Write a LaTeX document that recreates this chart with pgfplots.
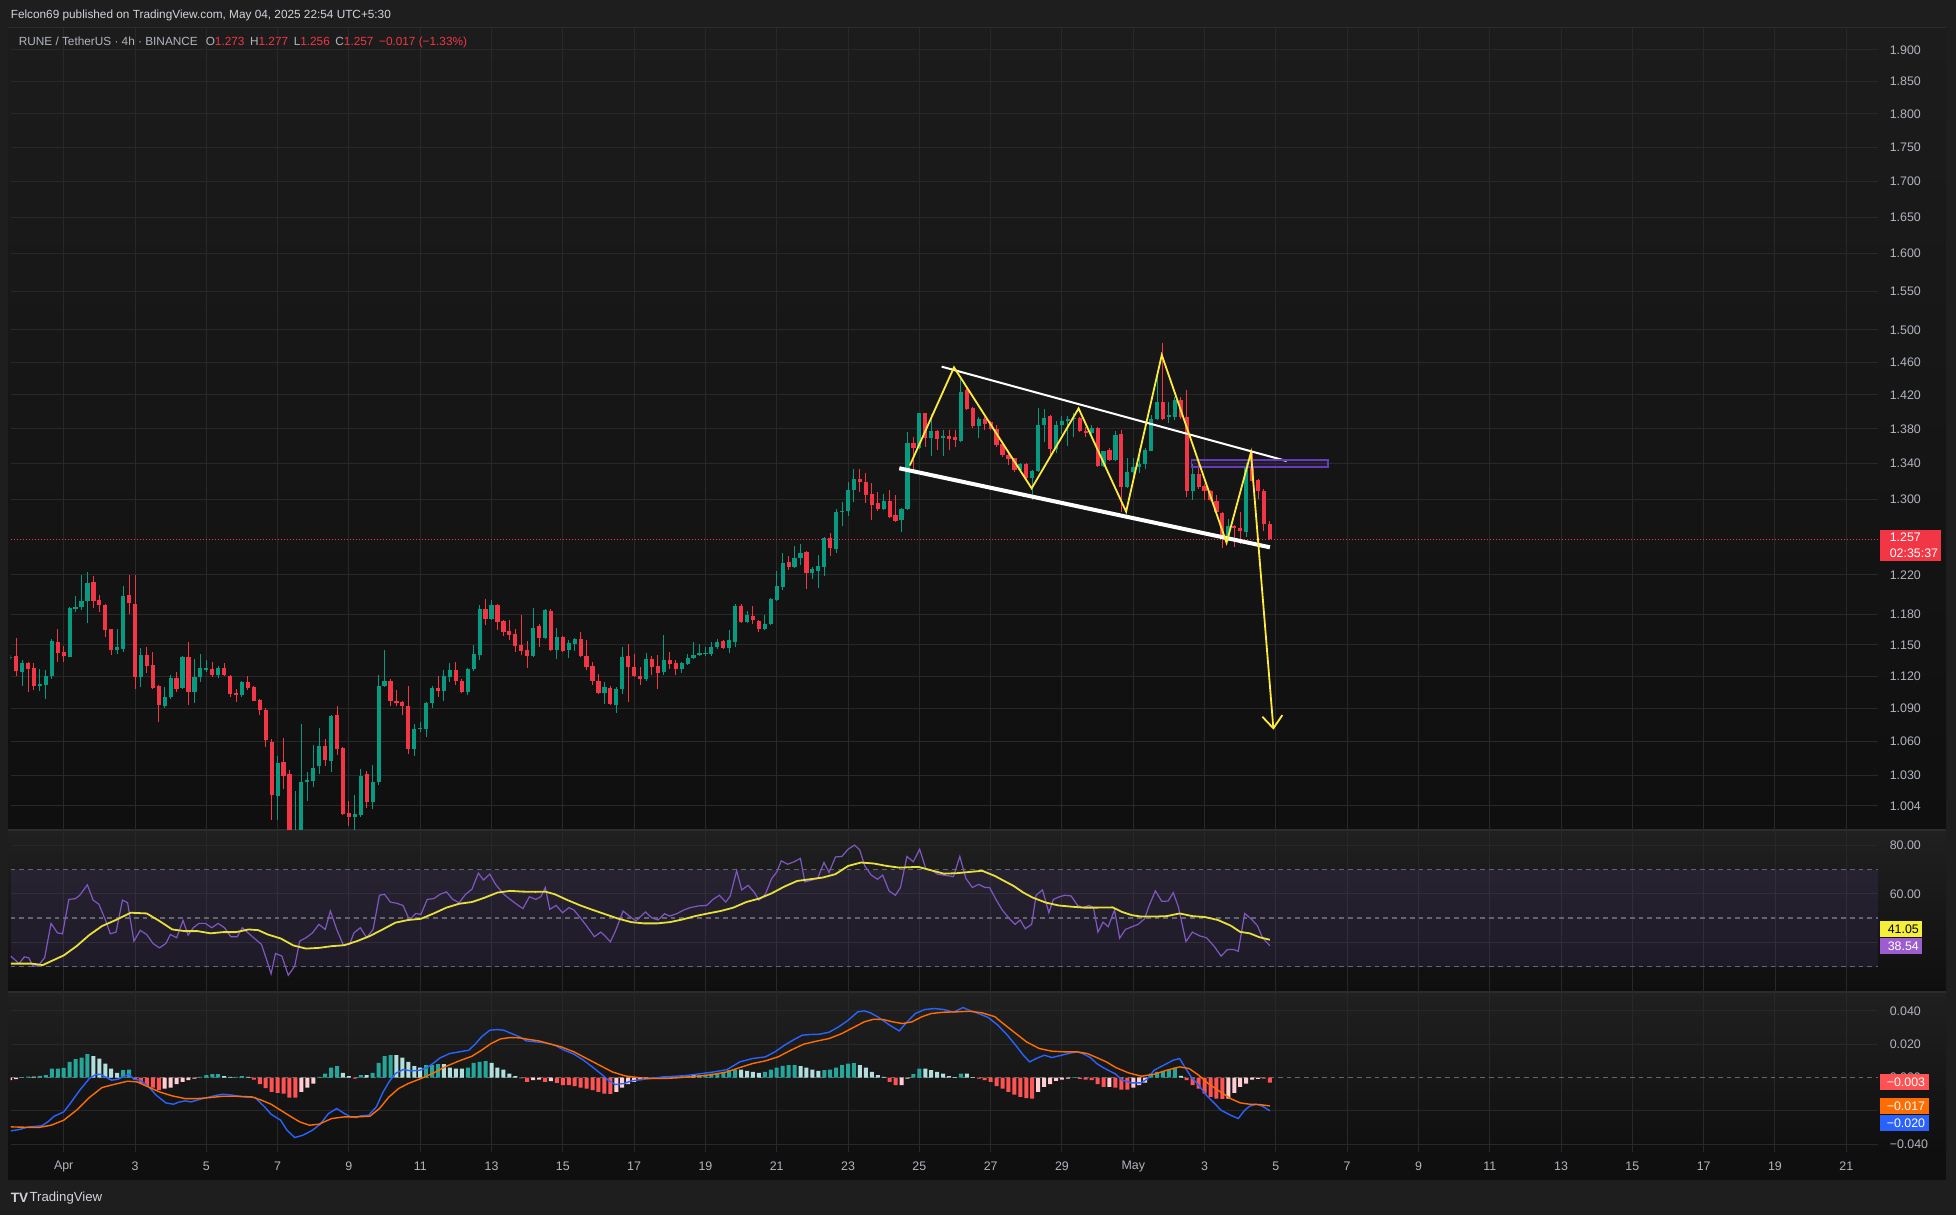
\documentclass[border=0pt]{standalone}
\usepackage{pgfplots}
\usepackage{pgfplotstable}
\pgfplotsset{compat=1.18}
\usetikzlibrary{arrows.meta}
\usepackage{fontspec}
\setmainfont{Liberation Sans}
\definecolor{pagebg}{HTML}{1E1E1E}
\definecolor{panetop}{HTML}{1C1C1C}
\definecolor{panebot}{HTML}{0F0F0F}
\definecolor{subtop}{HTML}{202020}
\definecolor{tvgrid}{HTML}{282828}
\definecolor{tvtext}{HTML}{B2B5BE}
\definecolor{tvhead}{HTML}{D1D4DC}
\definecolor{tvgreen}{HTML}{089981}
\definecolor{tvred}{HTML}{F23645}
\definecolor{rsipurple}{HTML}{7E57C2}
\definecolor{rsilabel}{HTML}{9C5ECF}
\definecolor{rsiyellow}{HTML}{E6DF3C}
\definecolor{rsiylabel}{HTML}{F5EE3B}
\definecolor{zzyellow}{HTML}{FFEB3B}
\definecolor{macdblue}{HTML}{2962FF}
\definecolor{macdorange}{HTML}{FF6D00}
\definecolor{hteal}{HTML}{26A69A}
\definecolor{hlteal}{HTML}{B2DFDB}
\definecolor{hred}{HTML}{FF5252}
\definecolor{hpink}{HTML}{FFCDD2}
\definecolor{dashgrey}{HTML}{62656D}
\definecolor{rectpurple}{HTML}{673AB7}
\definecolor{sepcol}{HTML}{2C2C2C}
\newcommand\tlf{\fontsize{3.1pt}{3.6pt}\selectfont}
\newcommand\hdf{\fontsize{2.95pt}{3.5pt}\selectfont}

\pgfplotstableread{
j o h l c
-9 1.137 1.140 1.135 1.138
-8 1.139 1.157 1.120 1.125
-7 1.124 1.135 1.111 1.133
-6 1.133 1.134 1.105 1.127
-5 1.128 1.133 1.107 1.111
-4 1.111 1.127 1.106 1.113
-3 1.112 1.126 1.099 1.120
-2 1.120 1.156 1.117 1.154
-1 1.153 1.166 1.134 1.142
0 1.143 1.149 1.134 1.139
1 1.138 1.187 1.138 1.186
2 1.185 1.198 1.182 1.187
3 1.187 1.220 1.184 1.193
4 1.193 1.223 1.171 1.212
5 1.213 1.219 1.186 1.193
6 1.194 1.199 1.182 1.189
7 1.189 1.190 1.158 1.165
8 1.166 1.166 1.140 1.145
9 1.145 1.166 1.141 1.148
10 1.146 1.209 1.143 1.198
11 1.199 1.220 1.180 1.191
12 1.190 1.220 1.108 1.119
13 1.119 1.147 1.110 1.140
14 1.140 1.148 1.123 1.130
15 1.131 1.143 1.108 1.109
16 1.111 1.112 1.078 1.093
17 1.092 1.110 1.090 1.101
18 1.101 1.121 1.099 1.118
19 1.118 1.124 1.105 1.108
20 1.109 1.139 1.108 1.138
21 1.138 1.153 1.093 1.105
22 1.105 1.136 1.095 1.119
23 1.119 1.141 1.115 1.128
24 1.126 1.135 1.124 1.128
25 1.127 1.134 1.119 1.121
26 1.121 1.130 1.118 1.128
27 1.128 1.133 1.120 1.121
28 1.120 1.121 1.101 1.103
29 1.104 1.108 1.096 1.102
30 1.102 1.116 1.101 1.115
31 1.115 1.120 1.107 1.109
32 1.110 1.111 1.097 1.097
33 1.098 1.099 1.084 1.089
34 1.089 1.090 1.055 1.061
35 1.060 1.062 0.992 1.013
36 1.012 1.047 0.992 1.041
37 1.042 1.063 1.018 1.030
38 1.031 1.035 0.968 0.980
39 0.975 1.017 0.965 0.982
40 0.982 1.076 0.975 1.024
41 1.024 1.033 1.008 1.026
42 1.025 1.057 1.020 1.037
43 1.038 1.072 1.031 1.056
44 1.056 1.062 1.038 1.044
45 1.043 1.084 1.033 1.083
46 1.084 1.092 1.048 1.053
47 1.054 1.055 0.996 0.997
48 0.998 1.008 0.987 0.995
49 0.995 1.013 0.982 0.997
50 0.996 1.036 0.995 1.030
51 1.031 1.034 1.002 1.007
52 1.007 1.039 1.001 1.024
53 1.024 1.121 1.022 1.111
54 1.111 1.145 1.110 1.116
55 1.116 1.117 1.092 1.097
56 1.097 1.107 1.092 1.095
57 1.096 1.097 1.084 1.092
58 1.092 1.111 1.049 1.053
59 1.053 1.076 1.047 1.071
60 1.071 1.078 1.069 1.072
61 1.071 1.096 1.064 1.095
62 1.095 1.111 1.090 1.109
63 1.109 1.120 1.101 1.106
64 1.106 1.126 1.097 1.120
65 1.119 1.133 1.115 1.126
66 1.126 1.134 1.112 1.116
67 1.116 1.117 1.104 1.105
68 1.105 1.128 1.102 1.127
69 1.127 1.150 1.125 1.141
70 1.140 1.189 1.135 1.185
71 1.185 1.195 1.169 1.175
72 1.175 1.194 1.174 1.189
73 1.189 1.190 1.165 1.172
74 1.173 1.174 1.159 1.163
75 1.164 1.174 1.155 1.160
76 1.161 1.166 1.143 1.149
77 1.150 1.179 1.140 1.144
78 1.145 1.154 1.128 1.139
79 1.139 1.186 1.138 1.167
80 1.168 1.170 1.148 1.157
81 1.157 1.185 1.156 1.184
82 1.183 1.185 1.144 1.145
83 1.145 1.167 1.136 1.158
84 1.158 1.159 1.143 1.144
85 1.145 1.155 1.137 1.152
86 1.151 1.157 1.144 1.156
87 1.156 1.163 1.138 1.139
88 1.139 1.155 1.126 1.129
89 1.130 1.134 1.112 1.116
90 1.116 1.122 1.103 1.104
91 1.104 1.115 1.094 1.110
92 1.109 1.111 1.093 1.094
93 1.093 1.110 1.086 1.108
94 1.108 1.148 1.103 1.138
95 1.139 1.151 1.096 1.129
96 1.129 1.141 1.119 1.120
97 1.120 1.129 1.112 1.117
98 1.117 1.142 1.116 1.136
99 1.136 1.139 1.121 1.129
100 1.130 1.140 1.108 1.123
101 1.124 1.160 1.121 1.135
102 1.135 1.143 1.127 1.132
103 1.133 1.135 1.121 1.127
104 1.127 1.134 1.123 1.133
105 1.132 1.141 1.131 1.137
106 1.137 1.153 1.136 1.140
107 1.140 1.151 1.139 1.142
108 1.141 1.148 1.139 1.142
109 1.141 1.153 1.139 1.148
110 1.148 1.156 1.146 1.153
111 1.154 1.155 1.146 1.147
112 1.147 1.165 1.142 1.155
113 1.153 1.190 1.148 1.188
114 1.188 1.190 1.171 1.172
115 1.172 1.183 1.171 1.179
116 1.178 1.188 1.170 1.174
117 1.173 1.174 1.163 1.166
118 1.166 1.179 1.165 1.170
119 1.170 1.196 1.169 1.195
120 1.194 1.224 1.193 1.209
121 1.208 1.243 1.205 1.232
122 1.233 1.240 1.225 1.228
123 1.228 1.250 1.227 1.238
124 1.237 1.252 1.230 1.243
125 1.244 1.245 1.206 1.222
126 1.222 1.228 1.216 1.226
127 1.224 1.241 1.207 1.229
128 1.228 1.260 1.219 1.259
129 1.259 1.264 1.240 1.248
130 1.247 1.290 1.243 1.286
131 1.286 1.297 1.271 1.288
132 1.288 1.319 1.282 1.311
133 1.311 1.334 1.297 1.323
134 1.323 1.334 1.308 1.320
135 1.319 1.330 1.296 1.305
136 1.306 1.318 1.278 1.294
137 1.296 1.308 1.288 1.290
138 1.290 1.306 1.289 1.298
139 1.298 1.311 1.280 1.281
140 1.283 1.305 1.276 1.277
141 1.278 1.291 1.265 1.290
142 1.290 1.376 1.289 1.364
143 1.364 1.370 1.334 1.358
144 1.358 1.399 1.357 1.398
145 1.398 1.399 1.359 1.369
146 1.369 1.397 1.349 1.377
147 1.377 1.379 1.356 1.368
148 1.369 1.379 1.349 1.372
149 1.372 1.379 1.356 1.368
150 1.371 1.379 1.359 1.367
151 1.366 1.442 1.365 1.424
152 1.426 1.429 1.402 1.403
153 1.405 1.406 1.381 1.383
154 1.383 1.394 1.369 1.391
155 1.391 1.394 1.379 1.386
156 1.388 1.389 1.379 1.380
157 1.380 1.385 1.359 1.361
158 1.362 1.366 1.348 1.350
159 1.350 1.352 1.338 1.345
160 1.346 1.347 1.331 1.333
161 1.333 1.341 1.331 1.340
162 1.340 1.341 1.323 1.324
163 1.324 1.333 1.300 1.332
164 1.332 1.404 1.331 1.385
165 1.384 1.403 1.365 1.393
166 1.395 1.396 1.346 1.357
167 1.357 1.389 1.352 1.385
168 1.385 1.395 1.374 1.389
169 1.389 1.395 1.360 1.392
170 1.391 1.399 1.370 1.393
171 1.393 1.394 1.376 1.377
172 1.377 1.382 1.370 1.375
173 1.375 1.384 1.372 1.381
174 1.381 1.382 1.336 1.337
175 1.337 1.355 1.336 1.354
176 1.356 1.358 1.343 1.344
177 1.344 1.378 1.343 1.373
178 1.374 1.379 1.287 1.314
179 1.314 1.346 1.313 1.331
180 1.331 1.346 1.318 1.336
181 1.336 1.358 1.330 1.340
182 1.340 1.358 1.334 1.356
183 1.355 1.396 1.354 1.391
184 1.391 1.446 1.390 1.412
185 1.412 1.484 1.390 1.391
186 1.394 1.412 1.387 1.396
187 1.394 1.418 1.390 1.414
188 1.414 1.418 1.392 1.394
189 1.394 1.426 1.303 1.309
190 1.310 1.340 1.299 1.328
191 1.328 1.340 1.312 1.314
192 1.315 1.317 1.299 1.310
193 1.310 1.311 1.298 1.299
194 1.298 1.305 1.285 1.286
195 1.285 1.286 1.248 1.260
196 1.260 1.279 1.255 1.271
197 1.271 1.272 1.249 1.269
198 1.269 1.287 1.252 1.266
199 1.265 1.341 1.260 1.337
200 1.337 1.354 1.320 1.321
201 1.322 1.323 1.301 1.309
202 1.309 1.312 1.266 1.274
203 1.273 1.277 1.256 1.257
}\candles

\pgfplotstableread{
j v
-8.9 34.3
-7.5 31.2
-6.64 34.0
-5.89 33.6
-5.14 30.1
-4.28 30.4
-3.21 33.6
-2.13 47.8
-1.06 43.9
-0.2 43.5
0.87 57.7
1.95 58.0
2.7 59.4
3.98 63.7
4.95 57.4
5.92 55.7
6.99 49.4
7.85 43.5
8.81 44.2
9.89 57.4
10.75 56.3
11.82 40.5
12.89 44.9
13.97 43.2
15.04 39.5
16.11 37.7
17.19 39.5
17.94 43.2
19.01 41.9
20.08 49.0
20.94 43.0
21.8 46.0
22.77 47.8
23.84 47.8
24.91 46.0
25.99 47.8
27.06 46.0
28.13 42.3
29.21 42.3
30.07 46.0
31.35 43.2
32.43 40.9
33.29 39.1
34.14 32.9
34.9 27.0
35.65 35.4
36.72 34.3
37.79 26.4
38.87 30.1
39.72 40.5
40.8 41.9
41.87 43.9
42.95 47.4
44.02 45.3
44.88 52.9
45.95 45.3
47.02 39.1
48.1 39.1
48.85 43.9
49.92 46.0
50.99 41.9
52.07 45.3
53.14 59.4
54.0 59.8
54.97 56.6
56.04 56.1
57.11 55.2
58.19 49.2
59.26 51.9
60.12 51.5
61.19 57.7
62.27 58.0
63.34 59.8
64.41 60.8
65.49 57.7
66.56 56.3
67.63 59.8
68.71 61.9
69.78 68.5
70.64 65.7
71.71 68.1
72.68 63.9
74.07 59.8
75.14 57.7
76.22 55.7
77.29 53.9
78.37 58.8
79.44 57.7
80.3 58.8
81.05 62.6
81.8 53.6
82.87 55.2
83.95 52.2
85.02 54.3
85.88 53.3
86.95 50.1
88.02 46.7
89.31 42.3
90.39 44.2
91.03 42.8
92.0 40.2
92.85 44.6
94.14 52.9
95.21 50.8
96.29 48.8
97.9 52.5
98.97 50.1
100.04 49.2
101.12 51.8
101.98 50.8
103.27 51.9
104.34 53.3
105.41 54.3
106.81 55.0
108.2 55.2
109.28 57.7
110.35 59.4
111.42 56.6
112.17 59.1
113.25 69.5
114.11 61.6
115.18 63.5
116.25 60.5
117.0 57.4
118.08 59.8
119.15 66.3
120.01 69.0
120.76 73.6
121.84 72.2
122.91 73.2
123.98 74.6
124.73 64.9
125.81 65.6
126.88 66.3
127.95 72.9
128.81 68.8
129.88 75.2
130.96 75.4
132.03 78.4
133.1 80.1
133.96 78.1
134.82 71.5
135.9 67.7
136.97 66.0
137.83 67.7
138.9 61.2
139.97 59.4
140.83 62.6
141.91 75.4
142.98 73.2
144.05 78.4
145.12 70.1
146.2 69.5
147.06 68.1
148.13 67.7
149.74 67.1
150.81 75.4
151.84 66.3
152.92 62.6
153.99 63.9
155.06 62.6
155.81 62.6
156.89 57.7
157.96 53.3
159.03 50.1
160.11 47.4
160.97 49.2
161.83 45.6
162.9 47.4
163.65 59.4
164.72 61.6
165.8 52.2
166.55 57.7
167.62 58.8
168.48 59.4
169.55 59.1
170.63 55.2
171.48 54.3
172.56 55.2
173.31 54.3
174.06 44.2
174.92 48.3
175.78 46.4
176.85 53.3
177.71 41.7
178.68 45.3
179.75 46.4
180.82 47.4
181.9 49.7
182.65 55.0
183.72 61.2
184.8 56.9
185.87 57.0
186.73 60.5
187.58 54.7
188.87 40.3
189.95 44.2
191.23 42.6
192.31 41.9
193.6 38.4
194.78 34.3
195.85 37.0
196.92 37.0
197.67 36.3
198.75 51.9
199.82 49.7
200.89 46.9
201.75 41.9
203 38.54
}\rsi

\pgfplotstableread{
j v
-8.9 31.2
-5.35 31.2
-3.53 30.6
-2.13 32.2
0.01 34.6
2.16 38.4
4.31 43.0
6.45 46.7
8.6 49.0
11.28 52.2
13.97 51.9
16.11 48.8
18.26 45.3
20.41 44.6
22.55 44.6
24.7 43.7
26.85 44.2
28.99 44.2
31.14 45.3
32.75 45.0
34.36 43.2
36.51 41.6
38.65 38.7
40.8 37.4
42.95 37.7
45.09 38.4
47.24 38.8
49.39 40.5
51.53 42.6
53.68 45.3
55.82 48.1
57.97 49.2
60.12 49.7
62.27 51.9
64.41 54.3
66.56 55.9
68.71 56.6
70.85 58.4
73.0 60.5
75.14 61.2
77.29 60.9
79.44 60.8
81.05 60.9
82.66 59.8
84.8 57.4
86.95 55.2
89.1 53.3
91.24 51.5
93.39 49.7
95.54 48.3
97.68 47.8
99.83 47.8
101.98 48.3
104.12 49.4
106.27 50.8
108.42 51.9
110.56 52.9
112.71 54.3
114.86 56.6
117.0 58.0
119.15 60.2
121.3 63.0
123.44 65.3
125.59 66.0
127.74 66.7
129.88 68.1
132.03 71.5
134.18 72.9
136.33 72.5
138.47 71.5
140.62 70.8
143.84 71.1
145.98 69.7
148.13 68.3
150.28 68.5
152.42 69.0
154.57 69.5
156.67 67.4
158.28 65.3
159.89 63.2
161.5 60.5
163.11 58.4
165.26 56.4
167.41 55.2
169.55 54.7
171.7 54.3
173.85 54.3
176.53 54.4
178.14 52.5
179.75 51.2
181.36 50.6
183.51 50.6
185.65 50.8
187.8 51.9
189.95 50.8
192.09 50.4
194.24 49.2
196.38 46.9
197.99 44.3
199.6 43.7
201.21 42.1
203 41.05
}\rsima

\pgfplotstableread{
j v
-8.9 -0.032
-7.5 -0.0312
-5.89 -0.0296
-3.74 -0.029
-2.67 -0.0266
-1.6 -0.0232
0.01 -0.0206
1.09 -0.0156
2.7 -0.0076
4.31 -0.0006
5.38 0.0018
6.24 0.002
6.99 0.0004
8.06 -0.0016
9.14 -0.001
10.21 0.0008
10.96 0.002
11.82 -0.001
12.89 -0.0016
14.18 -0.0052
15.58 -0.0106
17.19 -0.0152
18.47 -0.016
19.33 -0.0148
20.41 -0.014
21.48 -0.0146
22.77 -0.0132
24.16 -0.012
25.77 -0.0106
26.85 -0.01
28.46 -0.0106
30.07 -0.0116
32.21 -0.012
33.82 -0.0176
34.9 -0.022
36.51 -0.0256
37.58 -0.0316
38.87 -0.036
40.26 -0.0346
41.87 -0.0316
43.16 -0.028
44.56 -0.0216
45.95 -0.0186
47.24 -0.0216
48.31 -0.0236
49.17 -0.024
49.92 -0.023
51.32 -0.0226
52.61 -0.0176
53.68 -0.0092
54.75 -0.0026
55.82 0.0024
57.11 0.0048
58.51 0.004
59.9 0.0044
61.19 0.006
62.27 0.0088
63.34 0.0118
64.95 0.0144
66.56 0.0154
68.17 0.0164
69.24 0.02
70.32 0.0244
71.71 0.0284
73.0 0.0288
74.07 0.0284
75.36 0.0264
76.75 0.0244
77.83 0.022
79.44 0.0214
81.05 0.0208
82.66 0.0194
84.27 0.0164
85.88 0.014
87.49 0.0104
89.1 0.006
90.71 0.0014
91.78 -0.002
92.85 -0.0042
94.25 -0.0036
95.54 -0.002
97.15 -0.0012
98.76 -0.0006
100.9 0.0004
103.05 0.0008
105.2 0.0014
107.34 0.0024
109.49 0.0034
111.64 0.0048
113.79 0.0094
115.93 0.0114
118.08 0.0124
119.69 0.0154
121.3 0.0194
122.91 0.0228
124.3 0.0254
125.59 0.0258
127.2 0.026
128.81 0.0272
130.42 0.0304
132.03 0.0344
133.64 0.0394
134.71 0.04
135.79 0.0388
137.18 0.036
139.01 0.0314
140.62 0.028
141.69 0.0324
143.3 0.0384
144.91 0.0408
146.52 0.0414
148.13 0.0408
149.74 0.0392
151.35 0.042
152.38 0.0404
153.99 0.0384
155.6 0.036
157.21 0.0314
158.82 0.0254
160.43 0.0184
161.5 0.0134
162.58 0.0094
163.65 0.0114
165.04 0.0134
166.33 0.012
167.94 0.0134
169.55 0.0148
170.63 0.0154
171.7 0.014
172.77 0.012
173.85 0.0084
174.92 0.006
175.99 0.004
177.07 0.002
178.14 -0.0016
179.75 -0.0032
181.36 -0.0032
182.43 -0.0006
183.51 0.0044
185.12 0.0074
186.73 0.0104
187.8 0.0114
188.66 0.0064
189.73 0.0004
191.02 -0.0046
192.31 -0.0106
193.7 -0.0156
194.78 -0.0196
196.38 -0.0226
197.67 -0.0246
198.75 -0.0196
199.6 -0.0172
200.68 -0.016
201.75 -0.0172
203 -0.020
}\macd

\pgfplotstableread{
j v
-8.9 -0.0296
-4.28 -0.03
-2.13 -0.0286
0.01 -0.0256
2.16 -0.0196
4.31 -0.012
6.45 -0.006
8.6 -0.004
10.75 -0.0022
12.36 -0.0026
13.97 -0.0052
16.11 -0.0086
18.26 -0.011
20.41 -0.0126
22.55 -0.0126
24.7 -0.012
26.85 -0.0112
28.99 -0.0112
31.68 -0.0116
33.29 -0.0136
34.9 -0.016
36.51 -0.0196
38.12 -0.0232
39.72 -0.0266
41.34 -0.0286
42.95 -0.028
45.09 -0.0246
47.24 -0.0236
49.39 -0.0236
51.53 -0.0232
53.14 -0.0186
54.75 -0.0116
56.36 -0.0066
57.97 -0.0036
60.12 -0.0006
62.27 0.0028
64.41 0.0068
66.56 0.01
68.71 0.0128
70.32 0.0164
71.92 0.0204
73.53 0.0232
75.14 0.024
76.75 0.0238
78.37 0.0228
79.97 0.022
81.58 0.0204
83.73 0.0184
85.88 0.0154
88.02 0.0114
90.17 0.0074
92.32 0.0034
94.46 0.001
96.61 0.0
98.76 -0.0006
100.9 -0.0006
103.05 -0.0002
105.2 0.0004
107.34 0.001
109.49 0.002
111.64 0.0034
113.79 0.006
115.93 0.0084
118.08 0.01
120.22 0.0124
122.37 0.0164
124.52 0.02
126.66 0.0218
128.81 0.0234
130.96 0.0264
133.1 0.0304
134.71 0.0334
136.33 0.035
137.93 0.0348
139.54 0.0334
141.15 0.0324
142.76 0.0334
144.37 0.0364
145.98 0.0384
148.13 0.0392
150.28 0.0394
152.42 0.0398
154.57 0.0388
156.72 0.0365
157.75 0.0334
159.89 0.0274
162.04 0.0214
164.19 0.0174
166.33 0.0158
168.48 0.0154
170.63 0.0154
172.24 0.0144
173.85 0.012
175.46 0.0094
177.07 0.006
179.21 0.0028
181.36 0.0008
183.51 0.002
185.65 0.0044
187.8 0.0064
189.41 0.0054
191.02 0.0014
192.63 -0.0036
194.24 -0.0076
196.38 -0.0126
197.99 -0.0152
199.6 -0.016
201.21 -0.0162
203 -0.017
}\signal

\pgfplotstableread{
j v t
-9 -0.0015 3
-8 -0.001 3
-7 0.0003 0
-6 0.0005 0
-5 0.0005 1
-4 0.001 0
-3 0.0015 0
-2 0.0054 0
-1 0.0054 0
0 0.0058 0
1 0.0094 0
2 0.011 0
3 0.012 0
4 0.014 0
5 0.0128 1
6 0.0114 1
7 0.0084 1
8 0.0054 1
9 0.0028 1
10 0.0044 0
11 0.0048 0
12 -0.0008 2
13 -0.0036 2
14 -0.0052 2
15 -0.006 2
16 -0.0076 2
17 -0.0066 3
18 -0.006 3
19 -0.004 3
20 -0.0026 3
21 -0.0016 3
22 -0.0006 3
23 0.0004 0
24 0.0014 0
25 0.002 0
26 0.002 0
27 0.0008 1
28 0.0004 1
29 0.0004 0
30 0.0008 0
31 0.0004 1
32 -0.0012 2
33 -0.004 2
34 -0.0064 2
35 -0.0086 2
36 -0.0092 2
37 -0.0096 2
38 -0.012 2
39 -0.012 2
40 -0.0086 3
41 -0.006 3
42 -0.0036 3
43 0.0004 0
44 0.0024 0
45 0.006 0
46 0.0068 0
47 0.0028 1
48 0.0008 1
49 -0.0006 2
50 0.0014 0
51 0.0014 1
52 0.0028 0
53 0.0088 0
54 0.0128 0
55 0.0134 0
56 0.0134 1
57 0.012 1
58 0.0094 1
59 0.0068 1
60 0.006 1
61 0.0074 0
62 0.0074 0
63 0.008 0
64 0.008 1
65 0.006 1
66 0.0054 1
67 0.0054 1
68 0.006 0
69 0.0088 0
70 0.0094 0
71 0.0098 0
72 0.0088 1
73 0.006 1
74 0.0048 1
75 0.0024 1
76 0.0008 1
77 -0.0005 2
78 -0.0026 2
79 -0.0016 3
80 -0.0012 3
81 -0.0026 2
82 -0.0022 3
83 -0.0032 2
84 -0.0046 2
85 -0.0046 2
86 -0.0052 2
87 -0.006 2
88 -0.0066 2
89 -0.0076 2
90 -0.0086 2
91 -0.0096 2
92 -0.0098 2
93 -0.0086 3
94 -0.006 3
95 -0.004 3
96 -0.0026 3
97 -0.0016 3
98 -0.0008 3
99 -0.0006 3
100 -0.0002 3
101 0.0004 0
102 0.0006 0
103 0.0008 0
104 0.001 0
105 0.0014 0
106 0.0014 1
107 0.0016 0
108 0.0018 0
109 0.0024 0
110 0.0028 0
111 0.0034 0
112 0.0044 0
113 0.0048 0
114 0.0048 1
115 0.004 1
116 0.0034 1
117 0.0028 1
118 0.0034 0
119 0.0048 0
120 0.006 0
121 0.007 0
122 0.0074 0
123 0.0074 0
124 0.0068 1
125 0.006 1
126 0.0048 1
127 0.004 1
128 0.0044 0
129 0.0048 0
130 0.006 0
131 0.0074 0
132 0.0084 0
133 0.0086 0
134 0.0074 1
135 0.006 1
136 0.0034 1
137 0.0014 1
138 0.0004 1
139 -0.0026 2
140 -0.0046 2
141 -0.0046 3
142 -0.0006 3
143 0.002 0
144 0.0054 0
145 0.0054 1
146 0.0044 1
147 0.0034 1
148 0.0024 1
149 0.0008 1
150 0.0002 1
151 0.0024 0
152 0.0024 1
153 0.0002 1
154 -0.0006 2
155 -0.0016 2
156 -0.0026 2
157 -0.0052 2
158 -0.0066 2
159 -0.0086 2
160 -0.0102 2
161 -0.0116 2
162 -0.0124 2
163 -0.0126 2
164 -0.0086 3
165 -0.0056 3
166 -0.004 3
167 -0.002 3
168 -0.0012 3
169 -0.0006 3
170 0.0002 0
171 -0.0008 2
172 -0.0012 2
173 -0.0016 2
174 -0.004 2
175 -0.0056 2
176 -0.0056 3
177 -0.006 2
178 -0.0072 2
179 -0.0072 2
180 -0.006 3
181 -0.0046 3
182 -0.003 3
183 0.0024 0
184 0.0034 0
185 0.004 0
186 0.0048 0
187 0.006 0
188 0.001 1
189 -0.0016 2
190 -0.0046 2
191 -0.0066 2
192 -0.0096 2
193 -0.0116 2
194 -0.0126 2
195 -0.0128 2
196 -0.0126 3
197 -0.0092 3
198 -0.0056 3
199 -0.0036 3
200 -0.0012 3
201 -0.0008 3
202 -0.0006 2
203 -0.003 2
}\hist

\pgfplotsset{
  tvpane/.style={
    scale only axis, width=466.875pt,
    xmin=-8.953, xmax=305.34,
    axis line style={draw=none},
    major tick length=0pt, minor tick length=0pt,
    xtick={0,12,...,300},
    xmajorgrids, ymajorgrids,
    grid style={draw=tvgrid, line width=0.25pt},
    xticklabels={},
    yticklabel pos=right,
    yticklabel style={font=\tlf, text=tvtext, anchor=west, inner sep=0pt, xshift=2.75pt},
    scaled y ticks=false,
    anchor=north west,
  },
}

\begin{document}
\begin{tikzpicture}
\useasboundingbox (0,0) rectangle (489pt,-303.75pt);
\fill[pagebg] (0,0) rectangle (489pt,-303.75pt);
% panes
\shade[top color=panetop, bottom color=panebot] (2pt,-6.9pt) rectangle (486.5pt,-207.375pt);
\shade[top color=subtop, bottom color=panebot] (2pt,-207.375pt) rectangle (486.5pt,-247.875pt);
\shade[top color=subtop, bottom color=panebot] (2pt,-247.875pt) rectangle (486.5pt,-288pt);
\fill[panebot] (2pt,-288pt) rectangle (486.5pt,-295pt);
\draw[sepcol, line width=0.5pt] (2pt,-207.375pt) -- (486.5pt,-207.375pt);
\draw[sepcol, line width=0.5pt] (2pt,-247.875pt) -- (486.5pt,-247.875pt);
\draw[sepcol, line width=0.3pt] (2pt,-6.9pt) -- (486.5pt,-6.9pt);

% ---------- price pane ----------
\begin{axis}[tvpane, at={(2.625pt,-6.75pt)}, height=200.5pt,
  ymode=log, ymin=0.98454, ymax=1.9371,
  ytick={1.004,1.03,1.06,1.09,1.12,1.15,1.18,1.22,1.3,1.34,1.38,1.42,1.46,1.5,1.55,1.6,1.65,1.7,1.75,1.8,1.85,1.9},
  yticklabels={1.004,1.030,1.060,1.090,1.120,1.150,1.180,1.220,1.300,1.340,1.380,1.420,1.460,1.500,1.550,1.600,1.650,1.700,1.750,1.800,1.850,1.900},
]
\pgfplotsforeachungrouped \i in {0,...,212}{%
  \pgfplotstablegetelem{\i}{j}\of\candles\let\cdJ\pgfplotsretval
  \pgfplotstablegetelem{\i}{o}\of\candles\let\cdO\pgfplotsretval
  \pgfplotstablegetelem{\i}{h}\of\candles\let\cdH\pgfplotsretval
  \pgfplotstablegetelem{\i}{l}\of\candles\let\cdL\pgfplotsretval
  \pgfplotstablegetelem{\i}{c}\of\candles\let\cdC\pgfplotsretval
  \ifdim\cdC pt<\cdO pt\def\cdcol{tvred}\else\def\cdcol{tvgreen}\fi
  \edef\cdtmp{\noexpand\addplot[forget plot, draw=\cdcol, line width=0.25pt] coordinates {(\cdJ,\cdL) (\cdJ,\cdH)};
    \noexpand\addplot[forget plot, draw=\cdcol, line width=1.05pt] coordinates {(\cdJ,\cdO) (\cdJ,\cdC)};}%
  \cdtmp
}
\addplot[tvred, line width=0.25pt, dash pattern=on 0.25pt off 0.5pt] coordinates {(-8.953,1.257) (305.34,1.257)};
\addplot[white, line width=0.5pt] coordinates {(147.76,1.4543) (205.82,1.3430)};
\addplot[white, line width=1pt] coordinates {(140.63,1.3348) (203.0,1.2487)};
\addplot[draw=rectpurple, line width=0.45pt, fill=rectpurple, fill opacity=0.15] coordinates {(189.8,1.3362) (212.8,1.3362) (212.8,1.3445) (189.8,1.3445)} -- cycle;
\addplot[zzyellow, line width=0.45pt, -{Straight Barb[length=3.1pt,width=5pt]}] coordinates {(142.4,1.338) (149.83,1.4535) (162.9,1.3124) (170.8,1.404) (178.8,1.2868) (184.8,1.4687) (195.7,1.2535) (199.8,1.3525) (203.6,1.0706)};
\end{axis}

% ---------- RSI pane ----------
\begin{axis}[tvpane, at={(2.625pt,-207.375pt)}, height=40.5pt,
  ymin=19.7, ymax=86.5, ytick={40,60,80}, yticklabels={{},60.00,80.00}]
\addplot[fill=rsipurple, fill opacity=0.12, draw=none, forget plot] coordinates {(-8.953,30) (305.34,30) (305.34,70) (-8.953,70)} -- cycle;
\addplot[dashgrey, line width=0.3pt, dash pattern=on 1.2pt off 1pt] coordinates {(-8.953,70) (305.34,70)};
\addplot[dashgrey, line width=0.3pt, dash pattern=on 1.2pt off 1pt] coordinates {(-8.953,50) (305.34,50)};
\addplot[dashgrey, line width=0.3pt, dash pattern=on 1.2pt off 1pt] coordinates {(-8.953,30) (305.34,30)};
\addplot[rsipurple, line width=0.3pt] table[x=j,y=v] {\rsi};
\addplot[rsiyellow, line width=0.45pt] table[x=j,y=v] {\rsima};
\end{axis}

% ---------- MACD pane ----------
\begin{axis}[tvpane, at={(2.625pt,-247.875pt)}, height=40.125pt,
  ymin=-0.0447, ymax=0.0516,
  ytick={-0.04,-0.02,0.02,0.04}, yticklabels={−0.040,{},0.020,0.040},
  extra y ticks={0}, extra y tick labels={0.000}, extra y tick style={grid=none},
  xticklabels={Apr,3,5,7,9,11,13,15,17,19,21,23,25,27,29,May,3,5,7,9,11,13,15,17,19,21},
  xticklabel style={font=\tlf, text=tvtext, anchor=center, inner sep=0pt, yshift=-3.5pt}]
\addplot[dashgrey, line width=0.3pt, dash pattern=on 1.2pt off 1pt] coordinates {(-8.953,0) (305.34,0)};
\addplot[ybar, bar width=1pt, bar shift=0pt, fill=hteal, draw=none, forget plot, restrict expr to domain={\thisrow{t}}{-0.5:0.5}] table[x=j,y=v] {\hist};
\addplot[ybar, bar width=1pt, bar shift=0pt, fill=hlteal, draw=none, forget plot, restrict expr to domain={\thisrow{t}}{0.5:1.5}] table[x=j,y=v] {\hist};
\addplot[ybar, bar width=1pt, bar shift=0pt, fill=hred, draw=none, forget plot, restrict expr to domain={\thisrow{t}}{1.5:2.5}] table[x=j,y=v] {\hist};
\addplot[ybar, bar width=1pt, bar shift=0pt, fill=hpink, draw=none, forget plot, restrict expr to domain={\thisrow{t}}{2.5:3.5}] table[x=j,y=v] {\hist};
\addplot[macdblue, line width=0.35pt] table[x=j,y=v] {\macd};
\addplot[macdorange, line width=0.35pt] table[x=j,y=v] {\signal};
\end{axis}

% ---------- header / legend ----------
\node[anchor=west, inner sep=0pt, font=\hdf, text=tvhead] at (2.5pt,-3.75pt) {Felcon69 published on TradingView.com, May 04, 2025 22:54 UTC+5:30};
\node[anchor=west, inner sep=0pt, font=\hdf, text=tvtext] at (4.5pt,-10.5pt) {RUNE / TetherUS · 4h · BINANCE\hspace{2pt}O\textcolor{tvred}{1.273}\hspace{1.4pt}H\textcolor{tvred}{1.277}\hspace{1.4pt}L\textcolor{tvred}{1.256}\hspace{1.4pt}C\textcolor{tvred}{1.257}\hspace{1.4pt}\textcolor{tvred}{−0.017 (−1.33\%)}};

% ---------- right-axis value labels ----------
\fill[tvred] (470pt,-132.5pt) rectangle (485.25pt,-140.25pt);
\node[anchor=west, inner sep=0pt, font=\tlf, text=white] at (472.25pt,-134.4pt) {1.257};
\node[anchor=west, inner sep=0pt, font=\tlf, text=white] at (472.25pt,-138.3pt) {02:35:37};
\fill[rsiylabel] (470pt,-230.125pt) rectangle (480.5pt,-234.25pt);
\node[anchor=west, inner sep=0pt, font=\tlf, text=black] at (471.75pt,-232.2pt) {41.05};
\fill[rsilabel] (470pt,-234.5pt) rectangle (480.5pt,-238.5pt);
\node[anchor=west, inner sep=0pt, font=\tlf, text=white] at (471.75pt,-236.5pt) {38.54};
\fill[hred] (470pt,-268.5pt) rectangle (482.25pt,-272.5pt);
\node[anchor=west, inner sep=0pt, font=\tlf, text=white] at (471.5pt,-270.5pt) {−0.003};
\fill[macdorange] (470pt,-274.5pt) rectangle (482.25pt,-278.5pt);
\node[anchor=west, inner sep=0pt, font=\tlf, text=white] at (471.5pt,-276.5pt) {−0.017};
\fill[macdblue] (470pt,-278.75pt) rectangle (482.25pt,-282.75pt);
\node[anchor=west, inner sep=0pt, font=\tlf, text=white] at (471.5pt,-280.75pt) {−0.020};

% ---------- footer ----------
\node[anchor=west, inner sep=0pt, font=\fontsize{3.4pt}{4pt}\selectfont\bfseries, text=tvhead] at (2.5pt,-299.4pt) {TV};
\node[anchor=west, inner sep=0pt, font=\fontsize{3.3pt}{4pt}\selectfont, text=tvhead] at (7.2pt,-299.4pt) {TradingView};
\end{tikzpicture}
\end{document}
